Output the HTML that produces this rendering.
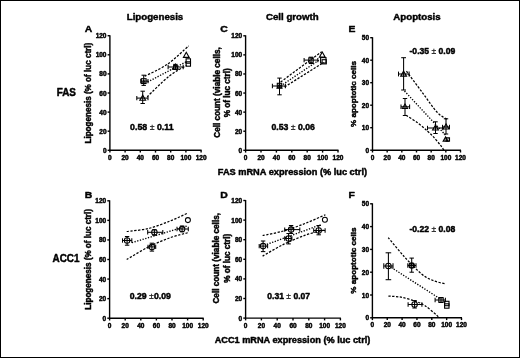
<!DOCTYPE html>
<html lang="en">
<head>
<meta charset="utf-8">
<title>Figure</title>
<style>
html,body{margin:0;padding:0;background:#fff;}
body{width:520px;height:358px;overflow:hidden;position:relative;}
#fig{position:absolute;left:0;top:0;width:520px;height:358px;box-sizing:border-box;border:1px solid #000;}
svg{position:absolute;left:0;top:0;display:block;}
svg text{font-family:"Liberation Sans", Arial, Helvetica, sans-serif;fill:#000;stroke:#000;stroke-width:0.45px;stroke-linejoin:round;}
svg{filter:blur(0.35px);}
</style>
</head>
<body>
<div id="fig"></div>
<svg width="520" height="358" viewBox="0 0 520 358">
<text font-size="9.70" font-weight="bold" text-anchor="middle" transform="translate(155.00 19.60)" >Lipogenesis</text>
<text font-size="9.70" font-weight="bold" text-anchor="middle" transform="translate(292.30 19.60)" >Cell growth</text>
<text font-size="9.70" font-weight="bold" text-anchor="middle" transform="translate(417.00 19.60)" >Apoptosis</text>
<text font-size="10.10" font-weight="bold" text-anchor="middle" transform="translate(66.30 96.30) scale(0.9804 1)" >FAS</text>
<text font-size="10.10" font-weight="bold" text-anchor="middle" transform="translate(66.00 261.50) scale(0.9804 1)" >ACC1</text>
<text font-size="9.23" font-weight="bold" text-anchor="middle" transform="translate(292.40 174.80)" >FAS mRNA expression (% luc ctrl)</text>
<text font-size="9.18" font-weight="bold" text-anchor="middle" transform="translate(292.50 343.00)" >ACC1 mRNA expression (% luc ctrl)</text>
<text font-size="9.98" font-weight="bold" text-anchor="start" transform="translate(84.80 31.70) scale(1.0417 1)" >A</text>
<text font-size="9.98" font-weight="bold" text-anchor="start" transform="translate(220.30 31.90) scale(1.0417 1)" >C</text>
<text font-size="9.98" font-weight="bold" text-anchor="start" transform="translate(348.60 31.70) scale(1.0417 1)" >E</text>
<text font-size="9.98" font-weight="bold" text-anchor="start" transform="translate(84.80 197.50) scale(1.0417 1)" >B</text>
<text font-size="9.98" font-weight="bold" text-anchor="start" transform="translate(220.30 197.50) scale(1.0417 1)" >D</text>
<text font-size="9.98" font-weight="bold" text-anchor="start" transform="translate(348.60 197.50) scale(1.0417 1)" >F</text>
<line x1="109.90" y1="150.30" x2="109.90" y2="35.20" stroke="#000" stroke-width="1.4" />
<line x1="109.40" y1="150.30" x2="201.60" y2="150.30" stroke="#000" stroke-width="1.4" />
<line x1="109.90" y1="150.30" x2="109.90" y2="152.60" stroke="#000" stroke-width="1.4" />
<text font-size="6.50" font-weight="bold" text-anchor="middle" transform="translate(109.90 159.70)" >0</text>
<line x1="125.10" y1="150.30" x2="125.10" y2="152.60" stroke="#000" stroke-width="1.4" />
<text font-size="6.50" font-weight="bold" text-anchor="middle" transform="translate(125.10 159.70)" >20</text>
<line x1="140.30" y1="150.30" x2="140.30" y2="152.60" stroke="#000" stroke-width="1.4" />
<text font-size="6.50" font-weight="bold" text-anchor="middle" transform="translate(140.30 159.70)" >40</text>
<line x1="155.50" y1="150.30" x2="155.50" y2="152.60" stroke="#000" stroke-width="1.4" />
<text font-size="6.50" font-weight="bold" text-anchor="middle" transform="translate(155.50 159.70)" >60</text>
<line x1="170.70" y1="150.30" x2="170.70" y2="152.60" stroke="#000" stroke-width="1.4" />
<text font-size="6.50" font-weight="bold" text-anchor="middle" transform="translate(170.70 159.70)" >80</text>
<line x1="185.90" y1="150.30" x2="185.90" y2="152.60" stroke="#000" stroke-width="1.4" />
<text font-size="6.50" font-weight="bold" text-anchor="middle" transform="translate(185.90 159.70)" >100</text>
<line x1="201.10" y1="150.30" x2="201.10" y2="152.60" stroke="#000" stroke-width="1.4" />
<text font-size="6.50" font-weight="bold" text-anchor="middle" transform="translate(201.10 159.70)" >120</text>
<line x1="107.60" y1="150.30" x2="109.90" y2="150.30" stroke="#000" stroke-width="1.4" />
<text font-size="6.50" font-weight="bold" text-anchor="end" transform="translate(106.50 152.80)" >0</text>
<line x1="107.60" y1="131.20" x2="109.90" y2="131.20" stroke="#000" stroke-width="1.4" />
<text font-size="6.50" font-weight="bold" text-anchor="end" transform="translate(106.50 133.70)" >20</text>
<line x1="107.60" y1="112.10" x2="109.90" y2="112.10" stroke="#000" stroke-width="1.4" />
<text font-size="6.50" font-weight="bold" text-anchor="end" transform="translate(106.50 114.60)" >40</text>
<line x1="107.60" y1="93.00" x2="109.90" y2="93.00" stroke="#000" stroke-width="1.4" />
<text font-size="6.50" font-weight="bold" text-anchor="end" transform="translate(106.50 95.50)" >60</text>
<line x1="107.60" y1="73.90" x2="109.90" y2="73.90" stroke="#000" stroke-width="1.4" />
<text font-size="6.50" font-weight="bold" text-anchor="end" transform="translate(106.50 76.40)" >80</text>
<line x1="107.60" y1="54.80" x2="109.90" y2="54.80" stroke="#000" stroke-width="1.4" />
<text font-size="6.50" font-weight="bold" text-anchor="end" transform="translate(106.50 57.30)" >100</text>
<line x1="107.60" y1="35.70" x2="109.90" y2="35.70" stroke="#000" stroke-width="1.4" />
<text font-size="6.50" font-weight="bold" text-anchor="end" transform="translate(106.50 38.20)" >120</text>
<text font-size="8.51" font-weight="bold" text-anchor="middle" transform="translate(91.40 93.20) rotate(-90) scale(0.9524 1)" >Lipogenesis (% of luc ctrl)</text>
<text font-size="8.80" font-weight="bold" text-anchor="middle" transform="translate(151.80 130.00)" >0.58 <tspan font-weight="normal" stroke-width="0.15">±</tspan> 0.11</text>
<path d="M144.70,76.20 C148.45,74.23 159.87,69.45 167.20,64.40 C174.53,59.35 185.12,48.98 188.70,45.90" fill="none" stroke="#000" stroke-width="1.25" stroke-dasharray="2.3 1.5"/>
<path d="M147.60,82.00 L186.70,61.50" fill="none" stroke="#000" stroke-width="1.35" stroke-dasharray="1.3 1.5"/>
<path d="M147.20,96.70 C150.85,93.28 162.52,81.42 169.10,76.20 C175.68,70.98 183.77,67.20 186.70,65.40" fill="none" stroke="#000" stroke-width="1.25" stroke-dasharray="2.3 1.5"/>
<line x1="140.80" y1="81.10" x2="148.00" y2="81.10" stroke="#000" stroke-width="1.05" />
<line x1="140.80" y1="78.90" x2="140.80" y2="83.30" stroke="#000" stroke-width="1.05" />
<line x1="148.00" y1="78.90" x2="148.00" y2="83.30" stroke="#000" stroke-width="1.05" />
<line x1="143.70" y1="75.20" x2="143.70" y2="85.40" stroke="#000" stroke-width="1.05" />
<line x1="141.50" y1="75.20" x2="145.90" y2="75.20" stroke="#000" stroke-width="1.05" />
<line x1="141.50" y1="85.40" x2="145.90" y2="85.40" stroke="#000" stroke-width="1.05" />
<rect x="141.30" y="78.70" width="4.80" height="4.80" fill="none" stroke="#000" stroke-width="1.1"/>
<polygon points="143.70,80.00 142.10,82.80 145.30,82.80" fill="none" stroke="#000" stroke-width="0.8"/>
<line x1="136.80" y1="98.10" x2="148.00" y2="98.10" stroke="#000" stroke-width="1.05" />
<line x1="136.80" y1="95.90" x2="136.80" y2="100.30" stroke="#000" stroke-width="1.05" />
<line x1="148.00" y1="95.90" x2="148.00" y2="100.30" stroke="#000" stroke-width="1.05" />
<line x1="142.70" y1="91.20" x2="142.70" y2="103.50" stroke="#000" stroke-width="1.05" />
<line x1="140.50" y1="91.20" x2="144.90" y2="91.20" stroke="#000" stroke-width="1.05" />
<line x1="140.50" y1="103.50" x2="144.90" y2="103.50" stroke="#000" stroke-width="1.05" />
<polygon points="142.70,95.20 139.80,100.27 145.60,100.27" fill="none" stroke="#000" stroke-width="1.1"/>
<line x1="168.10" y1="67.00" x2="183.20" y2="67.00" stroke="#000" stroke-width="1.05" />
<line x1="168.10" y1="64.80" x2="168.10" y2="69.20" stroke="#000" stroke-width="1.05" />
<line x1="183.20" y1="64.80" x2="183.20" y2="69.20" stroke="#000" stroke-width="1.05" />
<line x1="175.40" y1="64.40" x2="175.40" y2="69.30" stroke="#000" stroke-width="1.05" />
<line x1="173.20" y1="64.40" x2="177.60" y2="64.40" stroke="#000" stroke-width="1.05" />
<line x1="173.20" y1="69.30" x2="177.60" y2="69.30" stroke="#000" stroke-width="1.05" />
<polygon points="175.40,64.10 172.50,69.17 178.30,69.17" fill="none" stroke="#000" stroke-width="1.1"/>
<rect x="173.40" y="65.30" width="4.00" height="4.00" fill="none" stroke="#000" stroke-width="0.8"/>
<polygon points="186.30,52.30 183.40,57.38 189.20,57.38" fill="none" stroke="#000" stroke-width="1.1"/>
<rect x="186.10" y="58.80" width="4.40" height="4.40" fill="none" stroke="#000" stroke-width="1.1"/>
<rect x="186.10" y="61.80" width="4.40" height="4.40" fill="none" stroke="#000" stroke-width="1.1"/>
<line x1="245.60" y1="150.30" x2="245.60" y2="35.30" stroke="#000" stroke-width="1.4" />
<line x1="245.10" y1="150.30" x2="338.50" y2="150.30" stroke="#000" stroke-width="1.4" />
<line x1="245.60" y1="150.30" x2="245.60" y2="152.60" stroke="#000" stroke-width="1.4" />
<text font-size="6.50" font-weight="bold" text-anchor="middle" transform="translate(245.60 159.70)" >0</text>
<line x1="261.00" y1="150.30" x2="261.00" y2="152.60" stroke="#000" stroke-width="1.4" />
<text font-size="6.50" font-weight="bold" text-anchor="middle" transform="translate(261.00 159.70)" >20</text>
<line x1="276.40" y1="150.30" x2="276.40" y2="152.60" stroke="#000" stroke-width="1.4" />
<text font-size="6.50" font-weight="bold" text-anchor="middle" transform="translate(276.40 159.70)" >40</text>
<line x1="291.80" y1="150.30" x2="291.80" y2="152.60" stroke="#000" stroke-width="1.4" />
<text font-size="6.50" font-weight="bold" text-anchor="middle" transform="translate(291.80 159.70)" >60</text>
<line x1="307.20" y1="150.30" x2="307.20" y2="152.60" stroke="#000" stroke-width="1.4" />
<text font-size="6.50" font-weight="bold" text-anchor="middle" transform="translate(307.20 159.70)" >80</text>
<line x1="322.60" y1="150.30" x2="322.60" y2="152.60" stroke="#000" stroke-width="1.4" />
<text font-size="6.50" font-weight="bold" text-anchor="middle" transform="translate(322.60 159.70)" >100</text>
<line x1="338.00" y1="150.30" x2="338.00" y2="152.60" stroke="#000" stroke-width="1.4" />
<text font-size="6.50" font-weight="bold" text-anchor="middle" transform="translate(338.00 159.70)" >120</text>
<line x1="243.30" y1="150.30" x2="245.60" y2="150.30" stroke="#000" stroke-width="1.4" />
<text font-size="6.50" font-weight="bold" text-anchor="end" transform="translate(242.20 152.80)" >0</text>
<line x1="243.30" y1="131.22" x2="245.60" y2="131.22" stroke="#000" stroke-width="1.4" />
<text font-size="6.50" font-weight="bold" text-anchor="end" transform="translate(242.20 133.72)" >20</text>
<line x1="243.30" y1="112.13" x2="245.60" y2="112.13" stroke="#000" stroke-width="1.4" />
<text font-size="6.50" font-weight="bold" text-anchor="end" transform="translate(242.20 114.63)" >40</text>
<line x1="243.30" y1="93.05" x2="245.60" y2="93.05" stroke="#000" stroke-width="1.4" />
<text font-size="6.50" font-weight="bold" text-anchor="end" transform="translate(242.20 95.55)" >60</text>
<line x1="243.30" y1="73.97" x2="245.60" y2="73.97" stroke="#000" stroke-width="1.4" />
<text font-size="6.50" font-weight="bold" text-anchor="end" transform="translate(242.20 76.47)" >80</text>
<line x1="243.30" y1="54.88" x2="245.60" y2="54.88" stroke="#000" stroke-width="1.4" />
<text font-size="6.50" font-weight="bold" text-anchor="end" transform="translate(242.20 57.38)" >100</text>
<line x1="243.30" y1="35.80" x2="245.60" y2="35.80" stroke="#000" stroke-width="1.4" />
<text font-size="6.50" font-weight="bold" text-anchor="end" transform="translate(242.20 38.30)" >120</text>
<text font-size="8.20" font-weight="bold" text-anchor="middle" transform="translate(219.60 92.50) rotate(-90)" >Cell count (viable cells,</text>
<text font-size="8.20" font-weight="bold" text-anchor="middle" transform="translate(230.20 92.80) rotate(-90)" >% of luc ctrl)</text>
<text font-size="8.70" font-weight="bold" text-anchor="middle" transform="translate(293.20 130.00)" >0.53 <tspan font-weight="normal" stroke-width="0.15">±</tspan> 0.06</text>
<path d="M280.60,82.00 L321.70,51.70" fill="none" stroke="#000" stroke-width="1.25" stroke-dasharray="2.3 1.5"/>
<path d="M280.60,86.00 L319.80,59.60" fill="none" stroke="#000" stroke-width="1.35" stroke-dasharray="1.3 1.5"/>
<path d="M284.60,86.90 L323.70,62.50" fill="none" stroke="#000" stroke-width="1.25" stroke-dasharray="2.3 1.5"/>
<line x1="272.40" y1="86.00" x2="285.40" y2="86.00" stroke="#000" stroke-width="1.05" />
<line x1="272.40" y1="83.80" x2="272.40" y2="88.20" stroke="#000" stroke-width="1.05" />
<line x1="285.40" y1="83.80" x2="285.40" y2="88.20" stroke="#000" stroke-width="1.05" />
<line x1="279.50" y1="78.10" x2="279.50" y2="94.80" stroke="#000" stroke-width="1.05" />
<line x1="277.30" y1="78.10" x2="281.70" y2="78.10" stroke="#000" stroke-width="1.05" />
<line x1="277.30" y1="94.80" x2="281.70" y2="94.80" stroke="#000" stroke-width="1.05" />
<rect x="277.30" y="83.30" width="4.40" height="4.40" fill="none" stroke="#000" stroke-width="1.1"/>
<polygon points="279.50,84.10 277.10,88.30 281.90,88.30" fill="none" stroke="#000" stroke-width="1.1"/>
<line x1="304.10" y1="60.10" x2="317.80" y2="60.10" stroke="#000" stroke-width="1.05" />
<line x1="304.10" y1="57.90" x2="304.10" y2="62.30" stroke="#000" stroke-width="1.05" />
<line x1="317.80" y1="57.90" x2="317.80" y2="62.30" stroke="#000" stroke-width="1.05" />
<line x1="311.00" y1="57.20" x2="311.00" y2="63.50" stroke="#000" stroke-width="1.05" />
<line x1="308.80" y1="57.20" x2="313.20" y2="57.20" stroke="#000" stroke-width="1.05" />
<line x1="308.80" y1="63.50" x2="313.20" y2="63.50" stroke="#000" stroke-width="1.05" />
<rect x="308.80" y="57.90" width="4.40" height="4.40" fill="none" stroke="#000" stroke-width="1.1"/>
<polygon points="322.30,52.10 319.40,57.17 325.20,57.17" fill="none" stroke="#000" stroke-width="1.1"/>
<rect x="320.60" y="57.60" width="5.40" height="5.40" fill="none" stroke="#000" stroke-width="1.1"/>
<rect x="322.10" y="59.70" width="4.20" height="4.20" fill="none" stroke="#000" stroke-width="1.1"/>
<line x1="372.50" y1="150.20" x2="372.50" y2="37.20" stroke="#000" stroke-width="1.4" />
<line x1="372.00" y1="150.20" x2="461.00" y2="150.20" stroke="#000" stroke-width="1.4" />
<line x1="372.50" y1="150.20" x2="372.50" y2="152.50" stroke="#000" stroke-width="1.4" />
<text font-size="6.50" font-weight="bold" text-anchor="middle" transform="translate(372.50 159.60)" >0</text>
<line x1="387.17" y1="150.20" x2="387.17" y2="152.50" stroke="#000" stroke-width="1.4" />
<text font-size="6.50" font-weight="bold" text-anchor="middle" transform="translate(387.17 159.60)" >20</text>
<line x1="401.83" y1="150.20" x2="401.83" y2="152.50" stroke="#000" stroke-width="1.4" />
<text font-size="6.50" font-weight="bold" text-anchor="middle" transform="translate(401.83 159.60)" >40</text>
<line x1="416.50" y1="150.20" x2="416.50" y2="152.50" stroke="#000" stroke-width="1.4" />
<text font-size="6.50" font-weight="bold" text-anchor="middle" transform="translate(416.50 159.60)" >60</text>
<line x1="431.17" y1="150.20" x2="431.17" y2="152.50" stroke="#000" stroke-width="1.4" />
<text font-size="6.50" font-weight="bold" text-anchor="middle" transform="translate(431.17 159.60)" >80</text>
<line x1="445.83" y1="150.20" x2="445.83" y2="152.50" stroke="#000" stroke-width="1.4" />
<text font-size="6.50" font-weight="bold" text-anchor="middle" transform="translate(445.83 159.60)" >100</text>
<line x1="460.50" y1="150.20" x2="460.50" y2="152.50" stroke="#000" stroke-width="1.4" />
<text font-size="6.50" font-weight="bold" text-anchor="middle" transform="translate(460.50 159.60)" >120</text>
<line x1="370.20" y1="150.20" x2="372.50" y2="150.20" stroke="#000" stroke-width="1.4" />
<text font-size="6.50" font-weight="bold" text-anchor="end" transform="translate(369.10 152.70)" >0</text>
<line x1="370.20" y1="127.70" x2="372.50" y2="127.70" stroke="#000" stroke-width="1.4" />
<text font-size="6.50" font-weight="bold" text-anchor="end" transform="translate(369.10 130.20)" >10</text>
<line x1="370.20" y1="105.20" x2="372.50" y2="105.20" stroke="#000" stroke-width="1.4" />
<text font-size="6.50" font-weight="bold" text-anchor="end" transform="translate(369.10 107.70)" >20</text>
<line x1="370.20" y1="82.70" x2="372.50" y2="82.70" stroke="#000" stroke-width="1.4" />
<text font-size="6.50" font-weight="bold" text-anchor="end" transform="translate(369.10 85.20)" >30</text>
<line x1="370.20" y1="60.20" x2="372.50" y2="60.20" stroke="#000" stroke-width="1.4" />
<text font-size="6.50" font-weight="bold" text-anchor="end" transform="translate(369.10 62.70)" >40</text>
<line x1="370.20" y1="37.70" x2="372.50" y2="37.70" stroke="#000" stroke-width="1.4" />
<text font-size="6.50" font-weight="bold" text-anchor="end" transform="translate(369.10 40.20)" >50</text>
<text font-size="7.86" font-weight="bold" text-anchor="middle" transform="translate(355.60 94.00) rotate(-90) scale(1.0309 1)" >% apoptotic cells</text>
<text font-size="8.60" font-weight="bold" text-anchor="middle" transform="translate(432.40 54.20)" >-0.35 <tspan font-weight="normal" stroke-width="0.15">±</tspan> 0.09</text>
<path d="M406.50,71.20 C409.13,74.75 417.23,85.70 422.30,92.50 C427.37,99.30 432.75,107.50 436.90,112.00 C441.05,116.50 445.48,118.25 447.20,119.50" fill="none" stroke="#000" stroke-width="1.25" stroke-dasharray="2.3 1.5"/>
<path d="M404.50,91.00 L445.70,135.30" fill="none" stroke="#000" stroke-width="1.35" stroke-dasharray="1.3 1.5"/>
<path d="M406.10,115.30 C408.12,116.62 414.57,120.50 418.20,123.20 C421.83,125.90 425.12,128.95 427.90,131.50 C430.68,134.05 432.68,136.05 434.90,138.50 C437.12,140.95 439.60,144.08 441.20,146.20 C442.80,148.32 443.95,150.37 444.50,151.20" fill="none" stroke="#000" stroke-width="1.25" stroke-dasharray="2.3 1.5"/>
<line x1="398.50" y1="74.00" x2="409.10" y2="74.00" stroke="#000" stroke-width="1.05" />
<line x1="398.50" y1="71.60" x2="398.50" y2="76.40" stroke="#000" stroke-width="1.05" />
<line x1="409.10" y1="71.60" x2="409.10" y2="76.40" stroke="#000" stroke-width="1.05" />
<line x1="403.60" y1="57.70" x2="403.60" y2="90.00" stroke="#000" stroke-width="1.05" />
<line x1="401.20" y1="57.70" x2="406.00" y2="57.70" stroke="#000" stroke-width="1.05" />
<line x1="401.20" y1="90.00" x2="406.00" y2="90.00" stroke="#000" stroke-width="1.05" />
<polygon points="403.60,71.10 400.70,76.17 406.50,76.17" fill="none" stroke="#000" stroke-width="1.1"/>
<line x1="401.00" y1="106.80" x2="409.60" y2="106.80" stroke="#000" stroke-width="1.05" />
<line x1="401.00" y1="104.60" x2="401.00" y2="109.00" stroke="#000" stroke-width="1.05" />
<line x1="409.60" y1="104.60" x2="409.60" y2="109.00" stroke="#000" stroke-width="1.05" />
<line x1="405.00" y1="98.50" x2="405.00" y2="115.50" stroke="#000" stroke-width="1.05" />
<line x1="402.80" y1="98.50" x2="407.20" y2="98.50" stroke="#000" stroke-width="1.05" />
<line x1="402.80" y1="115.50" x2="407.20" y2="115.50" stroke="#000" stroke-width="1.05" />
<polygon points="405.00,104.00 402.40,108.55 407.60,108.55" fill="none" stroke="#000" stroke-width="1.1"/>
<line x1="427.50" y1="128.00" x2="442.80" y2="128.00" stroke="#000" stroke-width="1.05" />
<line x1="427.50" y1="125.80" x2="427.50" y2="130.20" stroke="#000" stroke-width="1.05" />
<line x1="442.80" y1="125.80" x2="442.80" y2="130.20" stroke="#000" stroke-width="1.05" />
<line x1="435.50" y1="121.80" x2="435.50" y2="133.50" stroke="#000" stroke-width="1.05" />
<line x1="433.30" y1="121.80" x2="437.70" y2="121.80" stroke="#000" stroke-width="1.05" />
<line x1="433.30" y1="133.50" x2="437.70" y2="133.50" stroke="#000" stroke-width="1.05" />
<polygon points="435.50,124.90 432.60,129.97 438.40,129.97" fill="none" stroke="#000" stroke-width="1.1"/>
<line x1="442.50" y1="127.00" x2="449.50" y2="127.00" stroke="#000" stroke-width="1.05" />
<line x1="442.50" y1="124.80" x2="442.50" y2="129.20" stroke="#000" stroke-width="1.05" />
<line x1="449.50" y1="124.80" x2="449.50" y2="129.20" stroke="#000" stroke-width="1.05" />
<line x1="446.00" y1="118.80" x2="446.00" y2="134.00" stroke="#000" stroke-width="1.05" />
<line x1="443.80" y1="118.80" x2="448.20" y2="118.80" stroke="#000" stroke-width="1.05" />
<line x1="443.80" y1="134.00" x2="448.20" y2="134.00" stroke="#000" stroke-width="1.05" />
<polygon points="446.00,123.90 443.10,128.97 448.90,128.97" fill="none" stroke="#000" stroke-width="1.1"/>
<polygon points="445.60,137.00 443.30,141.03 447.90,141.03" fill="none" stroke="#000" stroke-width="1.3"/>
<rect x="446.20" y="137.90" width="3.20" height="3.20" fill="none" stroke="#000" stroke-width="1.3"/>
<line x1="109.60" y1="318.20" x2="109.60" y2="200.30" stroke="#000" stroke-width="1.4" />
<line x1="109.10" y1="318.20" x2="203.70" y2="318.20" stroke="#000" stroke-width="1.4" />
<line x1="109.60" y1="318.20" x2="109.60" y2="320.50" stroke="#000" stroke-width="1.4" />
<text font-size="6.50" font-weight="bold" text-anchor="middle" transform="translate(109.60 327.60)" >0</text>
<line x1="125.20" y1="318.20" x2="125.20" y2="320.50" stroke="#000" stroke-width="1.4" />
<text font-size="6.50" font-weight="bold" text-anchor="middle" transform="translate(125.20 327.60)" >20</text>
<line x1="140.80" y1="318.20" x2="140.80" y2="320.50" stroke="#000" stroke-width="1.4" />
<text font-size="6.50" font-weight="bold" text-anchor="middle" transform="translate(140.80 327.60)" >40</text>
<line x1="156.40" y1="318.20" x2="156.40" y2="320.50" stroke="#000" stroke-width="1.4" />
<text font-size="6.50" font-weight="bold" text-anchor="middle" transform="translate(156.40 327.60)" >60</text>
<line x1="172.00" y1="318.20" x2="172.00" y2="320.50" stroke="#000" stroke-width="1.4" />
<text font-size="6.50" font-weight="bold" text-anchor="middle" transform="translate(172.00 327.60)" >80</text>
<line x1="187.60" y1="318.20" x2="187.60" y2="320.50" stroke="#000" stroke-width="1.4" />
<text font-size="6.50" font-weight="bold" text-anchor="middle" transform="translate(187.60 327.60)" >100</text>
<line x1="203.20" y1="318.20" x2="203.20" y2="320.50" stroke="#000" stroke-width="1.4" />
<text font-size="6.50" font-weight="bold" text-anchor="middle" transform="translate(203.20 327.60)" >120</text>
<line x1="107.30" y1="318.20" x2="109.60" y2="318.20" stroke="#000" stroke-width="1.4" />
<text font-size="6.50" font-weight="bold" text-anchor="end" transform="translate(106.20 320.70)" >0</text>
<line x1="107.30" y1="298.63" x2="109.60" y2="298.63" stroke="#000" stroke-width="1.4" />
<text font-size="6.50" font-weight="bold" text-anchor="end" transform="translate(106.20 301.13)" >20</text>
<line x1="107.30" y1="279.07" x2="109.60" y2="279.07" stroke="#000" stroke-width="1.4" />
<text font-size="6.50" font-weight="bold" text-anchor="end" transform="translate(106.20 281.57)" >40</text>
<line x1="107.30" y1="259.50" x2="109.60" y2="259.50" stroke="#000" stroke-width="1.4" />
<text font-size="6.50" font-weight="bold" text-anchor="end" transform="translate(106.20 262.00)" >60</text>
<line x1="107.30" y1="239.93" x2="109.60" y2="239.93" stroke="#000" stroke-width="1.4" />
<text font-size="6.50" font-weight="bold" text-anchor="end" transform="translate(106.20 242.43)" >80</text>
<line x1="107.30" y1="220.37" x2="109.60" y2="220.37" stroke="#000" stroke-width="1.4" />
<text font-size="6.50" font-weight="bold" text-anchor="end" transform="translate(106.20 222.87)" >100</text>
<line x1="107.30" y1="200.80" x2="109.60" y2="200.80" stroke="#000" stroke-width="1.4" />
<text font-size="6.50" font-weight="bold" text-anchor="end" transform="translate(106.20 203.30)" >120</text>
<text font-size="8.51" font-weight="bold" text-anchor="middle" transform="translate(91.40 259.40) rotate(-90) scale(0.9524 1)" >Lipogenesis (% of luc ctrl)</text>
<text font-size="8.70" font-weight="bold" text-anchor="middle" transform="translate(150.30 299.20)" >0.29 <tspan font-weight="normal" stroke-width="0.15">±</tspan>0.09</text>
<path d="M126.70,231.50 C130.33,231.00 141.23,230.27 148.50,228.50 C155.77,226.73 163.87,223.42 170.30,220.90 C176.73,218.38 184.30,214.65 187.10,213.40" fill="none" stroke="#000" stroke-width="1.25" stroke-dasharray="2.3 1.5"/>
<path d="M131.80,242.70 L187.10,226.00" fill="none" stroke="#000" stroke-width="1.35" stroke-dasharray="1.3 1.5"/>
<path d="M126.70,259.50 C130.33,257.40 141.23,250.53 148.50,246.90 C155.77,243.27 163.73,240.07 170.30,237.70 C176.87,235.33 184.97,233.53 187.90,232.70" fill="none" stroke="#000" stroke-width="1.25" stroke-dasharray="2.3 1.5"/>
<line x1="122.50" y1="240.50" x2="131.80" y2="240.50" stroke="#000" stroke-width="1.05" />
<line x1="122.50" y1="238.30" x2="122.50" y2="242.70" stroke="#000" stroke-width="1.05" />
<line x1="131.80" y1="238.30" x2="131.80" y2="242.70" stroke="#000" stroke-width="1.05" />
<line x1="127.10" y1="236.50" x2="127.10" y2="245.20" stroke="#000" stroke-width="1.05" />
<line x1="124.90" y1="236.50" x2="129.30" y2="236.50" stroke="#000" stroke-width="1.05" />
<line x1="124.90" y1="245.20" x2="129.30" y2="245.20" stroke="#000" stroke-width="1.05" />
<circle cx="127.10" cy="240.50" r="2.75" fill="none" stroke="#000" stroke-width="1.05"/>
<line x1="147.70" y1="232.30" x2="162.80" y2="232.30" stroke="#000" stroke-width="1.05" />
<line x1="147.70" y1="230.10" x2="147.70" y2="234.50" stroke="#000" stroke-width="1.05" />
<line x1="162.80" y1="230.10" x2="162.80" y2="234.50" stroke="#000" stroke-width="1.05" />
<line x1="154.40" y1="229.80" x2="154.40" y2="235.20" stroke="#000" stroke-width="1.05" />
<line x1="152.20" y1="229.80" x2="156.60" y2="229.80" stroke="#000" stroke-width="1.05" />
<line x1="152.20" y1="235.20" x2="156.60" y2="235.20" stroke="#000" stroke-width="1.05" />
<circle cx="154.40" cy="232.30" r="2.75" fill="none" stroke="#000" stroke-width="1.05"/>
<line x1="148.00" y1="246.90" x2="155.70" y2="246.90" stroke="#000" stroke-width="1.05" />
<line x1="148.00" y1="244.70" x2="148.00" y2="249.10" stroke="#000" stroke-width="1.05" />
<line x1="155.70" y1="244.70" x2="155.70" y2="249.10" stroke="#000" stroke-width="1.05" />
<line x1="151.90" y1="243.20" x2="151.90" y2="251.10" stroke="#000" stroke-width="1.05" />
<line x1="149.70" y1="243.20" x2="154.10" y2="243.20" stroke="#000" stroke-width="1.05" />
<line x1="149.70" y1="251.10" x2="154.10" y2="251.10" stroke="#000" stroke-width="1.05" />
<circle cx="151.90" cy="246.90" r="2.75" fill="none" stroke="#000" stroke-width="1.05"/>
<line x1="177.00" y1="229.00" x2="188.30" y2="229.00" stroke="#000" stroke-width="1.05" />
<line x1="177.00" y1="226.80" x2="177.00" y2="231.20" stroke="#000" stroke-width="1.05" />
<line x1="188.30" y1="226.80" x2="188.30" y2="231.20" stroke="#000" stroke-width="1.05" />
<line x1="182.10" y1="226.00" x2="182.10" y2="231.80" stroke="#000" stroke-width="1.05" />
<line x1="179.90" y1="226.00" x2="184.30" y2="226.00" stroke="#000" stroke-width="1.05" />
<line x1="179.90" y1="231.80" x2="184.30" y2="231.80" stroke="#000" stroke-width="1.05" />
<circle cx="182.10" cy="229.00" r="2.75" fill="none" stroke="#000" stroke-width="1.05"/>
<circle cx="187.90" cy="220.10" r="2.5" fill="none" stroke="#000" stroke-width="1.05"/>
<line x1="245.60" y1="318.10" x2="245.60" y2="200.00" stroke="#000" stroke-width="1.4" />
<line x1="245.10" y1="318.10" x2="340.90" y2="318.10" stroke="#000" stroke-width="1.4" />
<line x1="245.60" y1="318.10" x2="245.60" y2="320.40" stroke="#000" stroke-width="1.4" />
<text font-size="6.50" font-weight="bold" text-anchor="middle" transform="translate(245.60 327.50)" >0</text>
<line x1="261.40" y1="318.10" x2="261.40" y2="320.40" stroke="#000" stroke-width="1.4" />
<text font-size="6.50" font-weight="bold" text-anchor="middle" transform="translate(261.40 327.50)" >20</text>
<line x1="277.20" y1="318.10" x2="277.20" y2="320.40" stroke="#000" stroke-width="1.4" />
<text font-size="6.50" font-weight="bold" text-anchor="middle" transform="translate(277.20 327.50)" >40</text>
<line x1="293.00" y1="318.10" x2="293.00" y2="320.40" stroke="#000" stroke-width="1.4" />
<text font-size="6.50" font-weight="bold" text-anchor="middle" transform="translate(293.00 327.50)" >60</text>
<line x1="308.80" y1="318.10" x2="308.80" y2="320.40" stroke="#000" stroke-width="1.4" />
<text font-size="6.50" font-weight="bold" text-anchor="middle" transform="translate(308.80 327.50)" >80</text>
<line x1="324.60" y1="318.10" x2="324.60" y2="320.40" stroke="#000" stroke-width="1.4" />
<text font-size="6.50" font-weight="bold" text-anchor="middle" transform="translate(324.60 327.50)" >100</text>
<line x1="340.40" y1="318.10" x2="340.40" y2="320.40" stroke="#000" stroke-width="1.4" />
<text font-size="6.50" font-weight="bold" text-anchor="middle" transform="translate(340.40 327.50)" >120</text>
<line x1="243.30" y1="318.10" x2="245.60" y2="318.10" stroke="#000" stroke-width="1.4" />
<text font-size="6.50" font-weight="bold" text-anchor="end" transform="translate(242.20 320.60)" >0</text>
<line x1="243.30" y1="298.50" x2="245.60" y2="298.50" stroke="#000" stroke-width="1.4" />
<text font-size="6.50" font-weight="bold" text-anchor="end" transform="translate(242.20 301.00)" >20</text>
<line x1="243.30" y1="278.90" x2="245.60" y2="278.90" stroke="#000" stroke-width="1.4" />
<text font-size="6.50" font-weight="bold" text-anchor="end" transform="translate(242.20 281.40)" >40</text>
<line x1="243.30" y1="259.30" x2="245.60" y2="259.30" stroke="#000" stroke-width="1.4" />
<text font-size="6.50" font-weight="bold" text-anchor="end" transform="translate(242.20 261.80)" >60</text>
<line x1="243.30" y1="239.70" x2="245.60" y2="239.70" stroke="#000" stroke-width="1.4" />
<text font-size="6.50" font-weight="bold" text-anchor="end" transform="translate(242.20 242.20)" >80</text>
<line x1="243.30" y1="220.10" x2="245.60" y2="220.10" stroke="#000" stroke-width="1.4" />
<text font-size="6.50" font-weight="bold" text-anchor="end" transform="translate(242.20 222.60)" >100</text>
<line x1="243.30" y1="200.50" x2="245.60" y2="200.50" stroke="#000" stroke-width="1.4" />
<text font-size="6.50" font-weight="bold" text-anchor="end" transform="translate(242.20 203.00)" >120</text>
<text font-size="8.20" font-weight="bold" text-anchor="middle" transform="translate(219.20 258.30) rotate(-90)" >Cell count (viable cells,</text>
<text font-size="8.20" font-weight="bold" text-anchor="middle" transform="translate(229.80 258.30) rotate(-90)" >% of luc ctrl)</text>
<text font-size="8.55" font-weight="bold" text-anchor="middle" transform="translate(288.70 299.00)" >0.31 <tspan font-weight="normal" stroke-width="0.15">±</tspan> 0.07</text>
<path d="M262.60,235.50 C266.08,234.75 276.38,233.02 283.50,231.00 C290.62,228.98 298.32,226.12 305.30,223.40 C312.28,220.68 322.05,216.15 325.40,214.70" fill="none" stroke="#000" stroke-width="1.25" stroke-dasharray="2.3 1.5"/>
<path d="M266.80,244.40 L322.10,224.30" fill="none" stroke="#000" stroke-width="1.35" stroke-dasharray="1.3 1.5"/>
<path d="M262.60,256.10 C266.08,254.15 276.38,247.88 283.50,244.40 C290.62,240.92 298.58,237.58 305.30,235.20 C312.02,232.82 320.72,230.95 323.80,230.10" fill="none" stroke="#000" stroke-width="1.25" stroke-dasharray="2.3 1.5"/>
<line x1="259.20" y1="246.10" x2="267.60" y2="246.10" stroke="#000" stroke-width="1.05" />
<line x1="259.20" y1="243.90" x2="259.20" y2="248.30" stroke="#000" stroke-width="1.05" />
<line x1="267.60" y1="243.90" x2="267.60" y2="248.30" stroke="#000" stroke-width="1.05" />
<line x1="263.10" y1="241.00" x2="263.10" y2="251.60" stroke="#000" stroke-width="1.05" />
<line x1="260.90" y1="241.00" x2="265.30" y2="241.00" stroke="#000" stroke-width="1.05" />
<line x1="260.90" y1="251.60" x2="265.30" y2="251.60" stroke="#000" stroke-width="1.05" />
<circle cx="263.10" cy="246.10" r="2.75" fill="none" stroke="#000" stroke-width="1.05"/>
<line x1="284.70" y1="229.60" x2="299.80" y2="229.60" stroke="#000" stroke-width="1.05" />
<line x1="284.70" y1="227.40" x2="284.70" y2="231.80" stroke="#000" stroke-width="1.05" />
<line x1="299.80" y1="227.40" x2="299.80" y2="231.80" stroke="#000" stroke-width="1.05" />
<line x1="291.10" y1="225.50" x2="291.10" y2="233.50" stroke="#000" stroke-width="1.05" />
<line x1="288.90" y1="225.50" x2="293.30" y2="225.50" stroke="#000" stroke-width="1.05" />
<line x1="288.90" y1="233.50" x2="293.30" y2="233.50" stroke="#000" stroke-width="1.05" />
<circle cx="291.10" cy="229.60" r="2.75" fill="none" stroke="#000" stroke-width="1.05"/>
<line x1="284.70" y1="238.50" x2="291.90" y2="238.50" stroke="#000" stroke-width="1.05" />
<line x1="284.70" y1="236.30" x2="284.70" y2="240.70" stroke="#000" stroke-width="1.05" />
<line x1="291.90" y1="236.30" x2="291.90" y2="240.70" stroke="#000" stroke-width="1.05" />
<line x1="288.60" y1="233.50" x2="288.60" y2="243.90" stroke="#000" stroke-width="1.05" />
<line x1="286.40" y1="233.50" x2="290.80" y2="233.50" stroke="#000" stroke-width="1.05" />
<line x1="286.40" y1="243.90" x2="290.80" y2="243.90" stroke="#000" stroke-width="1.05" />
<circle cx="288.60" cy="238.50" r="2.75" fill="none" stroke="#000" stroke-width="1.05"/>
<line x1="313.70" y1="230.50" x2="325.10" y2="230.50" stroke="#000" stroke-width="1.05" />
<line x1="313.70" y1="228.30" x2="313.70" y2="232.70" stroke="#000" stroke-width="1.05" />
<line x1="325.10" y1="228.30" x2="325.10" y2="232.70" stroke="#000" stroke-width="1.05" />
<line x1="318.70" y1="225.50" x2="318.70" y2="234.80" stroke="#000" stroke-width="1.05" />
<line x1="316.50" y1="225.50" x2="320.90" y2="225.50" stroke="#000" stroke-width="1.05" />
<line x1="316.50" y1="234.80" x2="320.90" y2="234.80" stroke="#000" stroke-width="1.05" />
<circle cx="318.70" cy="230.50" r="2.75" fill="none" stroke="#000" stroke-width="1.05"/>
<circle cx="324.90" cy="219.80" r="2.5" fill="none" stroke="#000" stroke-width="1.05"/>
<line x1="372.40" y1="317.80" x2="372.40" y2="203.30" stroke="#000" stroke-width="1.4" />
<line x1="371.90" y1="317.80" x2="462.00" y2="317.80" stroke="#000" stroke-width="1.4" />
<line x1="372.40" y1="317.80" x2="372.40" y2="320.10" stroke="#000" stroke-width="1.4" />
<text font-size="6.50" font-weight="bold" text-anchor="middle" transform="translate(372.40 327.20)" >0</text>
<line x1="387.25" y1="317.80" x2="387.25" y2="320.10" stroke="#000" stroke-width="1.4" />
<text font-size="6.50" font-weight="bold" text-anchor="middle" transform="translate(387.25 327.20)" >20</text>
<line x1="402.10" y1="317.80" x2="402.10" y2="320.10" stroke="#000" stroke-width="1.4" />
<text font-size="6.50" font-weight="bold" text-anchor="middle" transform="translate(402.10 327.20)" >40</text>
<line x1="416.95" y1="317.80" x2="416.95" y2="320.10" stroke="#000" stroke-width="1.4" />
<text font-size="6.50" font-weight="bold" text-anchor="middle" transform="translate(416.95 327.20)" >60</text>
<line x1="431.80" y1="317.80" x2="431.80" y2="320.10" stroke="#000" stroke-width="1.4" />
<text font-size="6.50" font-weight="bold" text-anchor="middle" transform="translate(431.80 327.20)" >80</text>
<line x1="446.65" y1="317.80" x2="446.65" y2="320.10" stroke="#000" stroke-width="1.4" />
<text font-size="6.50" font-weight="bold" text-anchor="middle" transform="translate(446.65 327.20)" >100</text>
<line x1="461.50" y1="317.80" x2="461.50" y2="320.10" stroke="#000" stroke-width="1.4" />
<text font-size="6.50" font-weight="bold" text-anchor="middle" transform="translate(461.50 327.20)" >120</text>
<line x1="370.10" y1="317.80" x2="372.40" y2="317.80" stroke="#000" stroke-width="1.4" />
<text font-size="6.50" font-weight="bold" text-anchor="end" transform="translate(369.00 320.30)" >0</text>
<line x1="370.10" y1="295.00" x2="372.40" y2="295.00" stroke="#000" stroke-width="1.4" />
<text font-size="6.50" font-weight="bold" text-anchor="end" transform="translate(369.00 297.50)" >10</text>
<line x1="370.10" y1="272.20" x2="372.40" y2="272.20" stroke="#000" stroke-width="1.4" />
<text font-size="6.50" font-weight="bold" text-anchor="end" transform="translate(369.00 274.70)" >20</text>
<line x1="370.10" y1="249.40" x2="372.40" y2="249.40" stroke="#000" stroke-width="1.4" />
<text font-size="6.50" font-weight="bold" text-anchor="end" transform="translate(369.00 251.90)" >30</text>
<line x1="370.10" y1="226.60" x2="372.40" y2="226.60" stroke="#000" stroke-width="1.4" />
<text font-size="6.50" font-weight="bold" text-anchor="end" transform="translate(369.00 229.10)" >40</text>
<line x1="370.10" y1="203.80" x2="372.40" y2="203.80" stroke="#000" stroke-width="1.4" />
<text font-size="6.50" font-weight="bold" text-anchor="end" transform="translate(369.00 206.30)" >50</text>
<text font-size="7.86" font-weight="bold" text-anchor="middle" transform="translate(355.60 260.60) rotate(-90) scale(1.0309 1)" >% apoptotic cells</text>
<text font-size="8.60" font-weight="bold" text-anchor="middle" transform="translate(432.30 232.30)" >-0.22 <tspan font-weight="normal" stroke-width="0.15">±</tspan> 0.08</text>
<path d="M388.20,237.60 C390.88,240.78 398.68,250.58 404.30,256.70 C409.92,262.82 417.00,270.30 421.90,274.30 C426.80,278.30 429.78,279.10 433.70,280.70 C437.62,282.30 443.45,283.37 445.40,283.90" fill="none" stroke="#000" stroke-width="1.25" stroke-dasharray="2.3 1.5"/>
<path d="M389.00,266.00 L440.70,299.20" fill="none" stroke="#000" stroke-width="1.35" stroke-dasharray="1.3 1.5"/>
<path d="M388.40,296.10 C390.50,296.28 396.47,296.33 401.00,297.20 C405.53,298.07 411.60,299.88 415.60,301.30 C419.60,302.72 421.52,303.42 425.00,305.70 C428.48,307.98 434.25,313.03 436.50,315.00 C438.75,316.97 438.17,317.08 438.50,317.50" fill="none" stroke="#000" stroke-width="1.25" stroke-dasharray="2.3 1.5"/>
<line x1="383.80" y1="266.00" x2="393.00" y2="266.00" stroke="#000" stroke-width="1.05" />
<line x1="383.80" y1="263.20" x2="383.80" y2="268.80" stroke="#000" stroke-width="1.05" />
<line x1="393.00" y1="263.20" x2="393.00" y2="268.80" stroke="#000" stroke-width="1.05" />
<line x1="388.40" y1="252.80" x2="388.40" y2="279.70" stroke="#000" stroke-width="1.05" />
<line x1="385.60" y1="252.80" x2="391.20" y2="252.80" stroke="#000" stroke-width="1.05" />
<line x1="385.60" y1="279.70" x2="391.20" y2="279.70" stroke="#000" stroke-width="1.05" />
<circle cx="388.40" cy="266.00" r="2.75" fill="none" stroke="#000" stroke-width="1.05"/>
<line x1="407.80" y1="265.50" x2="416.00" y2="265.50" stroke="#000" stroke-width="1.05" />
<line x1="407.80" y1="263.30" x2="407.80" y2="267.70" stroke="#000" stroke-width="1.05" />
<line x1="416.00" y1="263.30" x2="416.00" y2="267.70" stroke="#000" stroke-width="1.05" />
<line x1="411.70" y1="258.10" x2="411.70" y2="272.20" stroke="#000" stroke-width="1.05" />
<line x1="409.50" y1="258.10" x2="413.90" y2="258.10" stroke="#000" stroke-width="1.05" />
<line x1="409.50" y1="272.20" x2="413.90" y2="272.20" stroke="#000" stroke-width="1.05" />
<circle cx="411.70" cy="265.50" r="2.75" fill="none" stroke="#000" stroke-width="1.05"/>
<rect x="409.90" y="263.70" width="3.60" height="3.60" fill="none" stroke="#000" stroke-width="1.1"/>
<line x1="408.10" y1="304.50" x2="421.90" y2="304.50" stroke="#000" stroke-width="1.05" />
<line x1="408.10" y1="302.30" x2="408.10" y2="306.70" stroke="#000" stroke-width="1.05" />
<line x1="421.90" y1="302.30" x2="421.90" y2="306.70" stroke="#000" stroke-width="1.05" />
<line x1="414.60" y1="300.60" x2="414.60" y2="308.00" stroke="#000" stroke-width="1.05" />
<line x1="412.40" y1="300.60" x2="416.80" y2="300.60" stroke="#000" stroke-width="1.05" />
<line x1="412.40" y1="308.00" x2="416.80" y2="308.00" stroke="#000" stroke-width="1.05" />
<circle cx="414.60" cy="304.50" r="2.75" fill="none" stroke="#000" stroke-width="1.05"/>
<line x1="435.10" y1="300.00" x2="445.40" y2="300.00" stroke="#000" stroke-width="1.05" />
<line x1="435.10" y1="297.80" x2="435.10" y2="302.20" stroke="#000" stroke-width="1.05" />
<line x1="445.40" y1="297.80" x2="445.40" y2="302.20" stroke="#000" stroke-width="1.05" />
<line x1="441.00" y1="297.50" x2="441.00" y2="302.50" stroke="#000" stroke-width="1.05" />
<line x1="438.80" y1="297.50" x2="443.20" y2="297.50" stroke="#000" stroke-width="1.05" />
<line x1="438.80" y1="302.50" x2="443.20" y2="302.50" stroke="#000" stroke-width="1.05" />
<rect x="438.80" y="297.80" width="4.40" height="4.40" fill="none" stroke="#000" stroke-width="1.1"/>
<rect x="444.60" y="301.30" width="4.40" height="4.40" fill="none" stroke="#000" stroke-width="1.1"/>
<rect x="444.60" y="303.80" width="4.40" height="4.40" fill="none" stroke="#000" stroke-width="1.1"/>
</svg>
</body>
</html>
